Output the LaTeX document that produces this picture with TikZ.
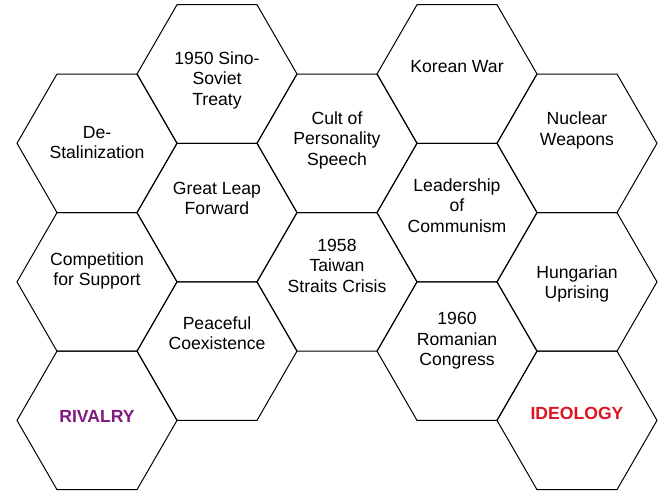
\documentclass[tikz,border=0pt]{standalone}
\usepackage{fontspec}
\setmainfont{Liberation Sans}
\usetikzlibrary{shapes.geometric}
\definecolor{rivalcol}{RGB}{128,26,128}
\definecolor{ideocol}{RGB}{224,20,30}

\begin{document}
\begin{tikzpicture}
    [x=1pt,y=-1pt,
     hexa/.style={regular polygon, regular polygon sides=6, minimum size=160pt, inner sep=0pt, draw, line width=1pt},
     txt/.style={align=center, font=\fontsize{17.6}{20.5}\selectfont}]
    \useasboundingbox (0,0) rectangle (669,502);
    % first column
    \node[hexa] (destal) at (97,143.3) {};
    \node[hexa] (comp) at (97,281.9) {};
    \node[hexa] (rival) at (97,420.4) {};
    % second column
    \node[hexa] (sino) at (217,74) {};
    \node[hexa] (leap) at (217,212.6) {};
    \node[hexa] (peace) at (217,351.1) {};
    % third column
    \node[hexa] (cult) at (337,143.3) {};
    \node[hexa] (taiwan) at (337,281.9) {};
    % fourth column
    \node[hexa] (korea) at (457,74) {};
    \node[hexa] (lead) at (457,212.6) {};
    \node[hexa] (roman) at (457,351.1) {};
    % fifth column
    \node[hexa] (nuke) at (577,143.3) {};
    \node[hexa] (hung) at (577,281.9) {};
    \node[hexa] (ideo) at (577,420.4) {};
    % labels
    \node[txt] at ([yshift=1pt]destal) {De-\\Stalinization};
    \node[txt] at ([yshift=11pt]comp) {Competition\\for Support};
    \node[txt,text=rivalcol] at ([yshift=4pt]rival) {\bfseries RIVALRY};
    \node[txt] at ([yshift=-6pt]sino) {1950 Sino-\\Soviet\\Treaty};
    \node[txt] at ([yshift=14pt]leap) {Great Leap\\Forward};
    \node[txt] at ([yshift=18pt]peace) {Peaceful\\Coexistence};
    \node[txt] at ([yshift=3pt]cult) {Cult of\\Personality\\Speech};
    \node[txt] at ([yshift=16pt]taiwan) {1958\\Taiwan\\Straits Crisis};
    \node[txt] at ([yshift=7pt]korea) {Korean War};
    \node[txt] at ([yshift=7pt]lead) {Leadership\\of\\Communism};
    \node[txt] at ([yshift=10pt]roman) {1960\\Romanian\\Congress};
    \node[txt] at ([yshift=13pt]nuke) {Nuclear\\Weapons};
    \node[txt] at ([yshift=-2pt]hung) {Hungarian\\Uprising};
    \node[txt,text=ideocol] at ([yshift=7pt]ideo) {\bfseries IDEOLOGY};
\end{tikzpicture}
\end{document}
